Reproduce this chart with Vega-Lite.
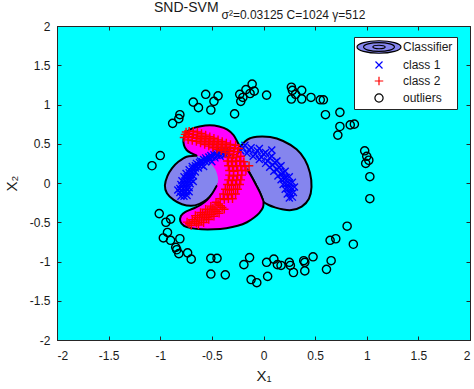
{
  "$schema": "https://vega.github.io/schema/vega-lite/v6.json",
  "width": 413,
  "height": 314,
  "autosize": {"type": "none"},
  "padding": {"left": 57, "top": 26, "right": 4, "bottom": 49},
  "background": "white",
  "config": {
    "view": {"fill": "#00ffff", "stroke": "#262626", "strokeWidth": 1},
    "font": "Liberation Sans",
    "axis": {
      "grid": false,
      "domainColor": "#262626",
      "tickColor": "#262626",
      "labelColor": "#1a1a1a",
      "labelFont": "Liberation Sans",
      "labelFontSize": 12,
      "titleFont": "Liberation Sans",
      "titleFontWeight": "normal",
      "titleColor": "#1a1a1a",
      "tickSize": -4
    },
    "legend": {
      "orient": "none", "legendX": 297, "legendY": 11,
      "fillColor": "white", "strokeColor": "#262626", "padding": 4,
      "labelFont": "Liberation Sans", "labelFontSize": 12, "labelColor": "#1a1a1a",
      "symbolSize": 100, "symbolStrokeWidth": 1.2, "symbolOffset": 15, "labelOffset": 18, "rowPadding": 3
    }
  },
  "title": {
    "text": "SND-SVM",
    "frame": "group",
    "anchor": "start",
    "dx": 97,
    "offset": -18,
    "baseline": "alphabetic",
    "fontSize": 14,
    "fontWeight": "normal",
    "font": "Liberation Sans",
    "color": "#1a1a1a"
  },
  "datasets": {
    "lobes": [
      {"id": "L", "i": 0, "x": -0.65, "y": 0.35},
      {"id": "L", "i": 1, "x": -0.745, "y": 0.335},
      {"id": "L", "i": 2, "x": -0.825, "y": 0.27},
      {"id": "L", "i": 3, "x": -0.885, "y": 0.19},
      {"id": "L", "i": 4, "x": -0.93, "y": 0.09},
      {"id": "L", "i": 5, "x": -0.955, "y": -0.03},
      {"id": "L", "i": 6, "x": -0.935, "y": -0.13},
      {"id": "L", "i": 7, "x": -0.87, "y": -0.215},
      {"id": "L", "i": 8, "x": -0.79, "y": -0.27},
      {"id": "L", "i": 9, "x": -0.70, "y": -0.29},
      {"id": "L", "i": 10, "x": -0.62, "y": -0.265},
      {"id": "L", "i": 11, "x": -0.55, "y": -0.21},
      {"id": "L", "i": 12, "x": -0.49, "y": -0.13},
      {"id": "L", "i": 13, "x": -0.45, "y": -0.04},
      {"id": "L", "i": 14, "x": -0.39, "y": 0.08},
      {"id": "L", "i": 15, "x": -0.41, "y": 0.22},
      {"id": "L", "i": 16, "x": -0.49, "y": 0.33},
      {"id": "L", "i": 17, "x": -0.58, "y": 0.38},
      {"id": "R", "i": 0, "x": -0.18, "y": 0.53},
      {"id": "R", "i": 1, "x": -0.13, "y": 0.57},
      {"id": "R", "i": 2, "x": -0.065, "y": 0.59},
      {"id": "R", "i": 3, "x": 0.065, "y": 0.585},
      {"id": "R", "i": 4, "x": 0.19, "y": 0.535},
      {"id": "R", "i": 5, "x": 0.32, "y": 0.43},
      {"id": "R", "i": 6, "x": 0.40, "y": 0.30},
      {"id": "R", "i": 7, "x": 0.45, "y": 0.13},
      {"id": "R", "i": 8, "x": 0.465, "y": -0.05},
      {"id": "R", "i": 9, "x": 0.44, "y": -0.20},
      {"id": "R", "i": 10, "x": 0.37, "y": -0.30},
      {"id": "R", "i": 11, "x": 0.27, "y": -0.345},
      {"id": "R", "i": 12, "x": 0.18, "y": -0.335},
      {"id": "R", "i": 13, "x": 0.11, "y": -0.31},
      {"id": "R", "i": 14, "x": 0.05, "y": -0.28},
      {"id": "R", "i": 15, "x": 0.0, "y": -0.24},
      {"id": "R", "i": 16, "x": -0.01, "y": -0.20},
      {"id": "R", "i": 17, "x": -0.035, "y": -0.12},
      {"id": "R", "i": 18, "x": -0.07, "y": -0.03},
      {"id": "R", "i": 19, "x": -0.11, "y": 0.07},
      {"id": "R", "i": 20, "x": -0.15, "y": 0.16},
      {"id": "R", "i": 21, "x": -0.20, "y": 0.22},
      {"id": "R", "i": 22, "x": -0.25, "y": 0.32},
      {"id": "R", "i": 23, "x": -0.26, "y": 0.41},
      {"id": "R", "i": 24, "x": -0.225, "y": 0.46}
    ],
    "mag": [
      {"i": 0, "x": -0.65, "y": 0.35},
      {"i": 1, "x": -0.70, "y": 0.38},
      {"i": 2, "x": -0.745, "y": 0.42},
      {"i": 3, "x": -0.77, "y": 0.48},
      {"i": 4, "x": -0.775, "y": 0.56},
      {"i": 5, "x": -0.75, "y": 0.64},
      {"i": 6, "x": -0.70, "y": 0.69},
      {"i": 7, "x": -0.62, "y": 0.72},
      {"i": 8, "x": -0.52, "y": 0.735},
      {"i": 9, "x": -0.43, "y": 0.72},
      {"i": 10, "x": -0.35, "y": 0.68},
      {"i": 11, "x": -0.29, "y": 0.61},
      {"i": 12, "x": -0.255, "y": 0.53},
      {"i": 13, "x": -0.23, "y": 0.47},
      {"i": 14, "x": -0.20, "y": 0.38},
      {"i": 15, "x": -0.17, "y": 0.26},
      {"i": 16, "x": -0.15, "y": 0.16},
      {"i": 17, "x": -0.11, "y": 0.07},
      {"i": 18, "x": -0.07, "y": -0.03},
      {"i": 19, "x": -0.035, "y": -0.12},
      {"i": 20, "x": -0.01, "y": -0.20},
      {"i": 21, "x": 0.0, "y": -0.24},
      {"i": 22, "x": -0.005, "y": -0.31},
      {"i": 23, "x": -0.04, "y": -0.38},
      {"i": 24, "x": -0.09, "y": -0.44},
      {"i": 25, "x": -0.16, "y": -0.50},
      {"i": 26, "x": -0.25, "y": -0.545},
      {"i": 27, "x": -0.36, "y": -0.575},
      {"i": 28, "x": -0.48, "y": -0.59},
      {"i": 29, "x": -0.60, "y": -0.59},
      {"i": 30, "x": -0.70, "y": -0.575},
      {"i": 31, "x": -0.77, "y": -0.545},
      {"i": 32, "x": -0.805, "y": -0.49},
      {"i": 33, "x": -0.80, "y": -0.42},
      {"i": 34, "x": -0.76, "y": -0.37},
      {"i": 35, "x": -0.68, "y": -0.325},
      {"i": 36, "x": -0.61, "y": -0.28},
      {"i": 37, "x": -0.545, "y": -0.215},
      {"i": 38, "x": -0.495, "y": -0.13},
      {"i": 39, "x": -0.455, "y": -0.04},
      {"i": 40, "x": -0.44, "y": 0.05},
      {"i": 41, "x": -0.47, "y": 0.18},
      {"i": 42, "x": -0.54, "y": 0.28},
      {"i": 43, "x": -0.60, "y": 0.33}
    ],
    "magline": [
      {"id": "A", "i": 0, "x": -0.65, "y": 0.35},
      {"id": "A", "i": 1, "x": -0.70, "y": 0.38},
      {"id": "A", "i": 2, "x": -0.745, "y": 0.42},
      {"id": "A", "i": 3, "x": -0.77, "y": 0.48},
      {"id": "A", "i": 4, "x": -0.775, "y": 0.56},
      {"id": "A", "i": 5, "x": -0.75, "y": 0.64},
      {"id": "A", "i": 6, "x": -0.70, "y": 0.69},
      {"id": "A", "i": 7, "x": -0.62, "y": 0.72},
      {"id": "A", "i": 8, "x": -0.52, "y": 0.735},
      {"id": "A", "i": 9, "x": -0.43, "y": 0.72},
      {"id": "A", "i": 10, "x": -0.35, "y": 0.68},
      {"id": "A", "i": 11, "x": -0.29, "y": 0.61},
      {"id": "A", "i": 12, "x": -0.255, "y": 0.53},
      {"id": "A", "i": 13, "x": -0.23, "y": 0.47},
      {"id": "B", "i": 16, "x": -0.15, "y": 0.16},
      {"id": "B", "i": 17, "x": -0.11, "y": 0.07},
      {"id": "B", "i": 18, "x": -0.07, "y": -0.03},
      {"id": "B", "i": 19, "x": -0.035, "y": -0.12},
      {"id": "B", "i": 20, "x": -0.01, "y": -0.20},
      {"id": "B", "i": 21, "x": 0.0, "y": -0.24},
      {"id": "B", "i": 22, "x": -0.005, "y": -0.31},
      {"id": "B", "i": 23, "x": -0.04, "y": -0.38},
      {"id": "B", "i": 24, "x": -0.09, "y": -0.44},
      {"id": "B", "i": 25, "x": -0.16, "y": -0.50},
      {"id": "B", "i": 26, "x": -0.25, "y": -0.545},
      {"id": "B", "i": 27, "x": -0.36, "y": -0.575},
      {"id": "B", "i": 28, "x": -0.48, "y": -0.59},
      {"id": "B", "i": 29, "x": -0.60, "y": -0.59},
      {"id": "B", "i": 30, "x": -0.70, "y": -0.575},
      {"id": "B", "i": 31, "x": -0.77, "y": -0.545},
      {"id": "B", "i": 32, "x": -0.805, "y": -0.49},
      {"id": "B", "i": 33, "x": -0.80, "y": -0.42},
      {"id": "B", "i": 34, "x": -0.76, "y": -0.37},
      {"id": "B", "i": 35, "x": -0.68, "y": -0.325},
      {"id": "B", "i": 36, "x": -0.61, "y": -0.28},
      {"id": "B", "i": 37, "x": -0.545, "y": -0.215},
      {"id": "B", "i": 38, "x": -0.495, "y": -0.13},
      {"id": "B", "i": 39, "x": -0.455, "y": -0.04}
    ],
    "pts": [
      {"s": "class 1", "x": -0.80, "y": -0.17}, {"s": "class 1", "x": -0.77, "y": -0.17}, {"s": "class 1", "x": -0.74, "y": -0.16},
      {"s": "class 1", "x": -0.81, "y": -0.12}, {"s": "class 1", "x": -0.78, "y": -0.12}, {"s": "class 1", "x": -0.75, "y": -0.11}, {"s": "class 1", "x": -0.72, "y": -0.11},
      {"s": "class 1", "x": -0.81, "y": -0.07}, {"s": "class 1", "x": -0.78, "y": -0.07}, {"s": "class 1", "x": -0.75, "y": -0.06}, {"s": "class 1", "x": -0.72, "y": -0.06},
      {"s": "class 1", "x": -0.80, "y": -0.02}, {"s": "class 1", "x": -0.77, "y": -0.02}, {"s": "class 1", "x": -0.74, "y": -0.01}, {"s": "class 1", "x": -0.71, "y": -0.01},
      {"s": "class 1", "x": -0.79, "y": 0.03}, {"s": "class 1", "x": -0.76, "y": 0.03}, {"s": "class 1", "x": -0.73, "y": 0.04}, {"s": "class 1", "x": -0.70, "y": 0.04},
      {"s": "class 1", "x": -0.77, "y": 0.08}, {"s": "class 1", "x": -0.74, "y": 0.08}, {"s": "class 1", "x": -0.71, "y": 0.09}, {"s": "class 1", "x": -0.68, "y": 0.09},
      {"s": "class 1", "x": -0.75, "y": 0.12}, {"s": "class 1", "x": -0.72, "y": 0.13}, {"s": "class 1", "x": -0.69, "y": 0.14}, {"s": "class 1", "x": -0.66, "y": 0.14},
      {"s": "class 1", "x": -0.72, "y": 0.17}, {"s": "class 1", "x": -0.69, "y": 0.18}, {"s": "class 1", "x": -0.66, "y": 0.19}, {"s": "class 1", "x": -0.63, "y": 0.19},
      {"s": "class 1", "x": -0.69, "y": 0.21}, {"s": "class 1", "x": -0.66, "y": 0.22}, {"s": "class 1", "x": -0.63, "y": 0.23}, {"s": "class 1", "x": -0.60, "y": 0.23},
      {"s": "class 1", "x": -0.65, "y": 0.25}, {"s": "class 1", "x": -0.62, "y": 0.26}, {"s": "class 1", "x": -0.59, "y": 0.27}, {"s": "class 1", "x": -0.56, "y": 0.27},
      {"s": "class 1", "x": -0.61, "y": 0.28}, {"s": "class 1", "x": -0.58, "y": 0.30}, {"s": "class 1", "x": -0.55, "y": 0.30}, {"s": "class 1", "x": -0.52, "y": 0.30},
      {"s": "class 1", "x": -0.56, "y": 0.32}, {"s": "class 1", "x": -0.53, "y": 0.33}, {"s": "class 1", "x": -0.50, "y": 0.33}, {"s": "class 1", "x": -0.47, "y": 0.32},
      {"s": "class 1", "x": -0.51, "y": 0.35}, {"s": "class 1", "x": -0.48, "y": 0.36}, {"s": "class 1", "x": -0.45, "y": 0.35}, {"s": "class 1", "x": -0.42, "y": 0.34},
      {"s": "class 1", "x": -0.46, "y": 0.38}, {"s": "class 1", "x": -0.43, "y": 0.38}, {"s": "class 1", "x": -0.40, "y": 0.37}, {"s": "class 1", "x": -0.37, "y": 0.36},
      {"s": "class 1", "x": -0.41, "y": 0.40}, {"s": "class 1", "x": -0.38, "y": 0.40}, {"s": "class 1", "x": -0.35, "y": 0.39},
      {"s": "class 1", "x": -0.83, "y": -0.09}, {"s": "class 1", "x": -0.68, "y": 0.02}, {"s": "class 1", "x": -0.58, "y": 0.21}, {"s": "class 1", "x": -0.50, "y": 0.27},
      {"s": "class 1", "x": -0.22, "y": 0.41}, {"s": "class 1", "x": -0.20, "y": 0.45}, {"s": "class 1", "x": -0.18, "y": 0.48},
      {"s": "class 1", "x": -0.16, "y": 0.38}, {"s": "class 1", "x": -0.14, "y": 0.42}, {"s": "class 1", "x": -0.12, "y": 0.45},
      {"s": "class 1", "x": -0.10, "y": 0.34}, {"s": "class 1", "x": -0.08, "y": 0.37}, {"s": "class 1", "x": -0.06, "y": 0.41}, {"s": "class 1", "x": -0.04, "y": 0.44},
      {"s": "class 1", "x": -0.04, "y": 0.30}, {"s": "class 1", "x": -0.02, "y": 0.33}, {"s": "class 1", "x": 0.00, "y": 0.37}, {"s": "class 1", "x": 0.02, "y": 0.39},
      {"s": "class 1", "x": 0.02, "y": 0.25}, {"s": "class 1", "x": 0.04, "y": 0.28}, {"s": "class 1", "x": 0.06, "y": 0.32}, {"s": "class 1", "x": 0.08, "y": 0.34},
      {"s": "class 1", "x": 0.06, "y": 0.20}, {"s": "class 1", "x": 0.09, "y": 0.23}, {"s": "class 1", "x": 0.11, "y": 0.26}, {"s": "class 1", "x": 0.13, "y": 0.28},
      {"s": "class 1", "x": 0.10, "y": 0.15}, {"s": "class 1", "x": 0.13, "y": 0.17}, {"s": "class 1", "x": 0.15, "y": 0.20}, {"s": "class 1", "x": 0.17, "y": 0.22},
      {"s": "class 1", "x": 0.14, "y": 0.09}, {"s": "class 1", "x": 0.17, "y": 0.11}, {"s": "class 1", "x": 0.19, "y": 0.13}, {"s": "class 1", "x": 0.21, "y": 0.15},
      {"s": "class 1", "x": 0.17, "y": 0.04}, {"s": "class 1", "x": 0.20, "y": 0.05}, {"s": "class 1", "x": 0.22, "y": 0.07}, {"s": "class 1", "x": 0.25, "y": 0.08},
      {"s": "class 1", "x": 0.19, "y": -0.02}, {"s": "class 1", "x": 0.22, "y": -0.01}, {"s": "class 1", "x": 0.25, "y": 0.00}, {"s": "class 1", "x": 0.28, "y": 0.01},
      {"s": "class 1", "x": 0.21, "y": -0.08}, {"s": "class 1", "x": 0.24, "y": -0.07}, {"s": "class 1", "x": 0.27, "y": -0.06}, {"s": "class 1", "x": 0.30, "y": -0.05},
      {"s": "class 1", "x": 0.23, "y": -0.14}, {"s": "class 1", "x": 0.26, "y": -0.13}, {"s": "class 1", "x": 0.29, "y": -0.12},
      {"s": "class 1", "x": 0.25, "y": -0.19}, {"s": "class 1", "x": 0.28, "y": -0.18}, {"s": "class 1", "x": 0.08, "y": 0.42},
      {"s": "class 2", "x": -0.77, "y": 0.58}, {"s": "class 2", "x": -0.76, "y": 0.62}, {"s": "class 2", "x": -0.75, "y": 0.65},
      {"s": "class 2", "x": -0.73, "y": 0.55}, {"s": "class 2", "x": -0.73, "y": 0.59}, {"s": "class 2", "x": -0.72, "y": 0.63}, {"s": "class 2", "x": -0.72, "y": 0.66},
      {"s": "class 2", "x": -0.69, "y": 0.54}, {"s": "class 2", "x": -0.69, "y": 0.58}, {"s": "class 2", "x": -0.68, "y": 0.62}, {"s": "class 2", "x": -0.68, "y": 0.66},
      {"s": "class 2", "x": -0.65, "y": 0.53}, {"s": "class 2", "x": -0.65, "y": 0.57}, {"s": "class 2", "x": -0.64, "y": 0.61}, {"s": "class 2", "x": -0.64, "y": 0.65},
      {"s": "class 2", "x": -0.61, "y": 0.51}, {"s": "class 2", "x": -0.61, "y": 0.55}, {"s": "class 2", "x": -0.60, "y": 0.59}, {"s": "class 2", "x": -0.60, "y": 0.63},
      {"s": "class 2", "x": -0.57, "y": 0.49}, {"s": "class 2", "x": -0.57, "y": 0.53}, {"s": "class 2", "x": -0.56, "y": 0.57}, {"s": "class 2", "x": -0.56, "y": 0.61},
      {"s": "class 2", "x": -0.53, "y": 0.47}, {"s": "class 2", "x": -0.53, "y": 0.51}, {"s": "class 2", "x": -0.52, "y": 0.55}, {"s": "class 2", "x": -0.52, "y": 0.59},
      {"s": "class 2", "x": -0.49, "y": 0.45}, {"s": "class 2", "x": -0.49, "y": 0.49}, {"s": "class 2", "x": -0.48, "y": 0.53}, {"s": "class 2", "x": -0.48, "y": 0.57},
      {"s": "class 2", "x": -0.45, "y": 0.43}, {"s": "class 2", "x": -0.45, "y": 0.47}, {"s": "class 2", "x": -0.44, "y": 0.51}, {"s": "class 2", "x": -0.44, "y": 0.55},
      {"s": "class 2", "x": -0.41, "y": 0.41}, {"s": "class 2", "x": -0.41, "y": 0.45}, {"s": "class 2", "x": -0.40, "y": 0.49}, {"s": "class 2", "x": -0.40, "y": 0.53},
      {"s": "class 2", "x": -0.37, "y": 0.39}, {"s": "class 2", "x": -0.37, "y": 0.43}, {"s": "class 2", "x": -0.36, "y": 0.47}, {"s": "class 2", "x": -0.36, "y": 0.51},
      {"s": "class 2", "x": -0.33, "y": 0.37}, {"s": "class 2", "x": -0.33, "y": 0.41}, {"s": "class 2", "x": -0.32, "y": 0.45}, {"s": "class 2", "x": -0.32, "y": 0.49},
      {"s": "class 2", "x": -0.29, "y": 0.36}, {"s": "class 2", "x": -0.29, "y": 0.40}, {"s": "class 2", "x": -0.28, "y": 0.44}, {"s": "class 2", "x": -0.27, "y": 0.48},
      {"s": "class 2", "x": -0.25, "y": 0.40}, {"s": "class 2", "x": -0.24, "y": 0.44},
      {"s": "class 2", "x": -0.34, "y": 0.33}, {"s": "class 2", "x": -0.30, "y": 0.32}, {"s": "class 2", "x": -0.26, "y": 0.33}, {"s": "class 2", "x": -0.22, "y": 0.34},
      {"s": "class 2", "x": -0.35, "y": 0.28}, {"s": "class 2", "x": -0.31, "y": 0.27}, {"s": "class 2", "x": -0.27, "y": 0.28}, {"s": "class 2", "x": -0.23, "y": 0.28}, {"s": "class 2", "x": -0.19, "y": 0.27},
      {"s": "class 2", "x": -0.34, "y": 0.22}, {"s": "class 2", "x": -0.30, "y": 0.21}, {"s": "class 2", "x": -0.26, "y": 0.22}, {"s": "class 2", "x": -0.22, "y": 0.22}, {"s": "class 2", "x": -0.18, "y": 0.21}, {"s": "class 2", "x": -0.14, "y": 0.22},
      {"s": "class 2", "x": -0.33, "y": 0.16}, {"s": "class 2", "x": -0.29, "y": 0.15}, {"s": "class 2", "x": -0.25, "y": 0.16}, {"s": "class 2", "x": -0.21, "y": 0.16}, {"s": "class 2", "x": -0.17, "y": 0.16},
      {"s": "class 2", "x": -0.33, "y": 0.10}, {"s": "class 2", "x": -0.29, "y": 0.09}, {"s": "class 2", "x": -0.25, "y": 0.10}, {"s": "class 2", "x": -0.21, "y": 0.10},
      {"s": "class 2", "x": -0.34, "y": 0.04}, {"s": "class 2", "x": -0.30, "y": 0.03}, {"s": "class 2", "x": -0.26, "y": 0.04}, {"s": "class 2", "x": -0.22, "y": 0.04},
      {"s": "class 2", "x": -0.35, "y": -0.02}, {"s": "class 2", "x": -0.31, "y": -0.03}, {"s": "class 2", "x": -0.27, "y": -0.02}, {"s": "class 2", "x": -0.23, "y": -0.02},
      {"s": "class 2", "x": -0.37, "y": -0.08}, {"s": "class 2", "x": -0.33, "y": -0.09}, {"s": "class 2", "x": -0.29, "y": -0.08}, {"s": "class 2", "x": -0.25, "y": -0.08},
      {"s": "class 2", "x": -0.39, "y": -0.14}, {"s": "class 2", "x": -0.35, "y": -0.15}, {"s": "class 2", "x": -0.31, "y": -0.14}, {"s": "class 2", "x": -0.27, "y": -0.14},
      {"s": "class 2", "x": -0.42, "y": -0.20}, {"s": "class 2", "x": -0.38, "y": -0.21}, {"s": "class 2", "x": -0.34, "y": -0.20}, {"s": "class 2", "x": -0.30, "y": -0.20},
      {"s": "class 2", "x": -0.46, "y": -0.245}, {"s": "class 2", "x": -0.44, "y": -0.268}, {"s": "class 2", "x": -0.42, "y": -0.29}, {"s": "class 2", "x": -0.40, "y": -0.312}, {"s": "class 2", "x": -0.38, "y": -0.335},
      {"s": "class 2", "x": -0.51, "y": -0.295}, {"s": "class 2", "x": -0.49, "y": -0.318}, {"s": "class 2", "x": -0.47, "y": -0.34}, {"s": "class 2", "x": -0.45, "y": -0.362}, {"s": "class 2", "x": -0.43, "y": -0.385},
      {"s": "class 2", "x": -0.56, "y": -0.335}, {"s": "class 2", "x": -0.54, "y": -0.358}, {"s": "class 2", "x": -0.52, "y": -0.38}, {"s": "class 2", "x": -0.50, "y": -0.402}, {"s": "class 2", "x": -0.48, "y": -0.425},
      {"s": "class 2", "x": -0.61, "y": -0.375}, {"s": "class 2", "x": -0.59, "y": -0.398}, {"s": "class 2", "x": -0.57, "y": -0.42}, {"s": "class 2", "x": -0.55, "y": -0.442}, {"s": "class 2", "x": -0.53, "y": -0.465},
      {"s": "class 2", "x": -0.66, "y": -0.415}, {"s": "class 2", "x": -0.64, "y": -0.438}, {"s": "class 2", "x": -0.62, "y": -0.46}, {"s": "class 2", "x": -0.60, "y": -0.482}, {"s": "class 2", "x": -0.58, "y": -0.505},
      {"s": "class 2", "x": -0.69, "y": -0.468}, {"s": "class 2", "x": -0.67, "y": -0.49}, {"s": "class 2", "x": -0.65, "y": -0.512}, {"s": "class 2", "x": -0.63, "y": -0.535},
      {"s": "class 2", "x": -0.74, "y": -0.498}, {"s": "class 2", "x": -0.72, "y": -0.52}, {"s": "class 2", "x": -0.70, "y": -0.542},
      {"s": "outliers", "x": -0.56, "y": 1.13}, {"s": "outliers", "x": -0.68, "y": 1.03}, {"s": "outliers", "x": -0.63, "y": 0.96}, {"s": "outliers", "x": -0.51, "y": 0.93},
      {"s": "outliers", "x": -0.48, "y": 1.04}, {"s": "outliers", "x": -0.44, "y": 1.11}, {"s": "outliers", "x": -0.81, "y": 0.87}, {"s": "outliers", "x": -0.82, "y": 0.82},
      {"s": "outliers", "x": -0.88, "y": 0.76}, {"s": "outliers", "x": -0.28, "y": 0.88}, {"s": "outliers", "x": -0.23, "y": 1.13}, {"s": "outliers", "x": -0.22, "y": 1.04},
      {"s": "outliers", "x": -0.20, "y": 1.09}, {"s": "outliers", "x": -0.17, "y": 1.19}, {"s": "outliers", "x": -0.13, "y": 1.14}, {"s": "outliers", "x": -0.11, "y": 1.26},
      {"s": "outliers", "x": -0.09, "y": 1.17}, {"s": "outliers", "x": 0.03, "y": 1.12}, {"s": "outliers", "x": 0.27, "y": 1.22}, {"s": "outliers", "x": 0.28, "y": 1.18},
      {"s": "outliers", "x": 0.27, "y": 1.07}, {"s": "outliers", "x": 0.31, "y": 1.13}, {"s": "outliers", "x": 0.37, "y": 1.18}, {"s": "outliers", "x": 0.37, "y": 1.07},
      {"s": "outliers", "x": 0.46, "y": 1.09}, {"s": "outliers", "x": 0.55, "y": 1.06}, {"s": "outliers", "x": 0.58, "y": 1.06}, {"s": "outliers", "x": 0.60, "y": 0.87},
      {"s": "outliers", "x": 0.74, "y": 0.90}, {"s": "outliers", "x": 0.74, "y": 0.72}, {"s": "outliers", "x": 0.72, "y": 0.61}, {"s": "outliers", "x": 0.84, "y": 0.74},
      {"s": "outliers", "x": 0.88, "y": 0.75}, {"s": "outliers", "x": 0.98, "y": 0.41}, {"s": "outliers", "x": 1.0, "y": 0.34}, {"s": "outliers", "x": 1.02, "y": 0.29},
      {"s": "outliers", "x": 0.99, "y": 0.25}, {"s": "outliers", "x": 1.03, "y": 0.08}, {"s": "outliers", "x": 1.03, "y": -0.20}, {"s": "outliers", "x": -1.0, "y": 0.35},
      {"s": "outliers", "x": -1.08, "y": 0.22}, {"s": "outliers", "x": -1.01, "y": -0.39}, {"s": "outliers", "x": -0.945, "y": -0.50}, {"s": "outliers", "x": -0.90, "y": -0.46},
      {"s": "outliers", "x": -0.93, "y": -0.63}, {"s": "outliers", "x": -0.97, "y": -0.70}, {"s": "outliers", "x": -0.90, "y": -0.73}, {"s": "outliers", "x": -0.81, "y": -0.71},
      {"s": "outliers", "x": -0.85, "y": -0.82}, {"s": "outliers", "x": -0.84, "y": -0.85}, {"s": "outliers", "x": -0.82, "y": -0.90}, {"s": "outliers", "x": -0.735, "y": -0.89},
      {"s": "outliers", "x": -0.70, "y": -0.97}, {"s": "outliers", "x": -0.51, "y": -0.96}, {"s": "outliers", "x": -0.45, "y": -0.96}, {"s": "outliers", "x": -0.51, "y": -1.16},
      {"s": "outliers", "x": -0.37, "y": -1.17}, {"s": "outliers", "x": -0.19, "y": -1.04}, {"s": "outliers", "x": -0.135, "y": -0.95}, {"s": "outliers", "x": -0.12, "y": -1.23},
      {"s": "outliers", "x": -0.065, "y": -1.27}, {"s": "outliers", "x": 0.03, "y": -1.01}, {"s": "outliers", "x": 0.04, "y": -1.19}, {"s": "outliers", "x": 0.10, "y": -0.97},
      {"s": "outliers", "x": 0.135, "y": -1.04}, {"s": "outliers", "x": 0.17, "y": -1.05}, {"s": "outliers", "x": 0.25, "y": -1.01}, {"s": "outliers", "x": 0.26, "y": -1.05},
      {"s": "outliers", "x": 0.29, "y": -1.14}, {"s": "outliers", "x": 0.39, "y": -0.99}, {"s": "outliers", "x": 0.40, "y": -1.01}, {"s": "outliers", "x": 0.40, "y": -1.12},
      {"s": "outliers", "x": 0.48, "y": -0.94}, {"s": "outliers", "x": 0.655, "y": -0.99}, {"s": "outliers", "x": 0.61, "y": -1.10}, {"s": "outliers", "x": 0.645, "y": -0.73},
      {"s": "outliers", "x": 0.70, "y": -0.71}, {"s": "outliers", "x": 0.81, "y": -0.55}, {"s": "outliers", "x": 0.87, "y": -0.78}
    ]
  },
  "layer": [
    {
      "data": {"name": "lobes"},
      "mark": {"type": "line", "interpolate": "cardinal-closed", "fill": "#8585ee", "stroke": "black", "strokeWidth": 2, "strokeJoin": "round"},
      "encoding": {
        "x": {"field": "x", "type": "quantitative", "scale": {"domain": [-2, 2]},
          "axis": {"orient": "bottom", "values": [-2, -1.5, -1, -0.5, 0, 0.5, 1, 1.5, 2], "labelExpr": "'' + datum.value", "labelPadding": 14, "title": "X₁", "titleFontSize": 15, "titleX": 206.5, "titleY": 40, "titleBaseline": "alphabetic", "titleAlign": "center"}},
        "y": {"field": "y", "type": "quantitative", "scale": {"domain": [-2, 2]},
          "axis": {"orient": "left", "values": [-2, -1.5, -1, -0.5, 0, 0.5, 1, 1.5, 2], "labelExpr": "'' + datum.value", "labelPadding": 11, "title": "X₂", "titleFontSize": 15, "titleX": -46, "titleY": 157, "titleAngle": -90, "titleBaseline": "middle", "titleAlign": "center"}},
        "detail": {"field": "id"},
        "order": {"field": "i"}
      }
    },
    {
      "data": {"name": "mag"},
      "mark": {"type": "line", "interpolate": "cardinal-closed", "fill": "#ff00ff", "strokeWidth": 0},
      "encoding": {
        "x": {"field": "x", "type": "quantitative", "axis": null},
        "y": {"field": "y", "type": "quantitative", "axis": null},
        "order": {"field": "i"}
      }
    },
    {
      "data": {"name": "magline"},
      "mark": {"type": "line", "interpolate": "cardinal", "stroke": "black", "strokeWidth": 2, "strokeCap": "round"},
      "encoding": {
        "x": {"field": "x", "type": "quantitative", "axis": null},
        "y": {"field": "y", "type": "quantitative", "axis": null},
        "detail": {"field": "id"},
        "order": {"field": "i"}
      }
    },
    {
      "data": {"name": "pts"},
      "mark": {"type": "point", "size": 100, "strokeWidth": 1.4, "opacity": 1},
      "encoding": {
        "x": {"field": "x", "type": "quantitative",
          "axis": {"orient": "top", "values": [-2, -1.5, -1, -0.5, 0, 0.5, 1, 1.5, 2], "labels": false, "title": "σ²=0.03125 C=1024 γ=512", "titleFontSize": 12, "titleX": 164, "titleY": -8, "titleAlign": "left", "titleBaseline": "alphabetic", "titleAngle": 0}},
        "y": {"field": "y", "type": "quantitative",
          "axis": {"orient": "right", "values": [-2, -1.5, -1, -0.5, 0, 0.5, 1, 1.5, 2], "labels": false, "title": null}},
        "stroke": {"field": "s", "type": "nominal",
          "scale": {"domain": ["Classifier", "class 1", "class 2", "outliers"], "range": ["black", "#0000ff", "#ff0000", "black"]},
          "legend": {"title": null}},
        "fill": {"field": "s", "type": "nominal",
          "scale": {"domain": ["Classifier", "class 1", "class 2", "outliers"], "range": ["#8585ee", "transparent", "transparent", "transparent"]},
          "legend": {"title": null}},
        "shape": {"field": "s", "type": "nominal",
          "scale": {"domain": ["Classifier", "class 1", "class 2", "outliers"],
            "range": [
              "M-4.4,0A4.4,1.25 0 1,0 4.4,0A4.4,1.25 0 1,0 -4.4,0ZM-3.08,0A3.08,0.875 0 1,0 3.08,0A3.08,0.875 0 1,0 -3.08,0ZM-1.23,0A1.23,0.35 0 1,0 1.23,0A1.23,0.35 0 1,0 -1.23,0Z",
              "M-0.7,-0.7L0.7,0.7M-0.7,0.7L0.7,-0.7",
              "M-0.85,0L0.85,0M0,-0.85L0,0.85",
              "M-0.82,0A0.82,0.82 0 1,0 0.82,0A0.82,0.82 0 1,0 -0.82,0Z"
            ]},
          "legend": {"title": null}}
      }
    }
  ],
  "resolve": {"axis": {"x": "independent", "y": "independent"}}
}
